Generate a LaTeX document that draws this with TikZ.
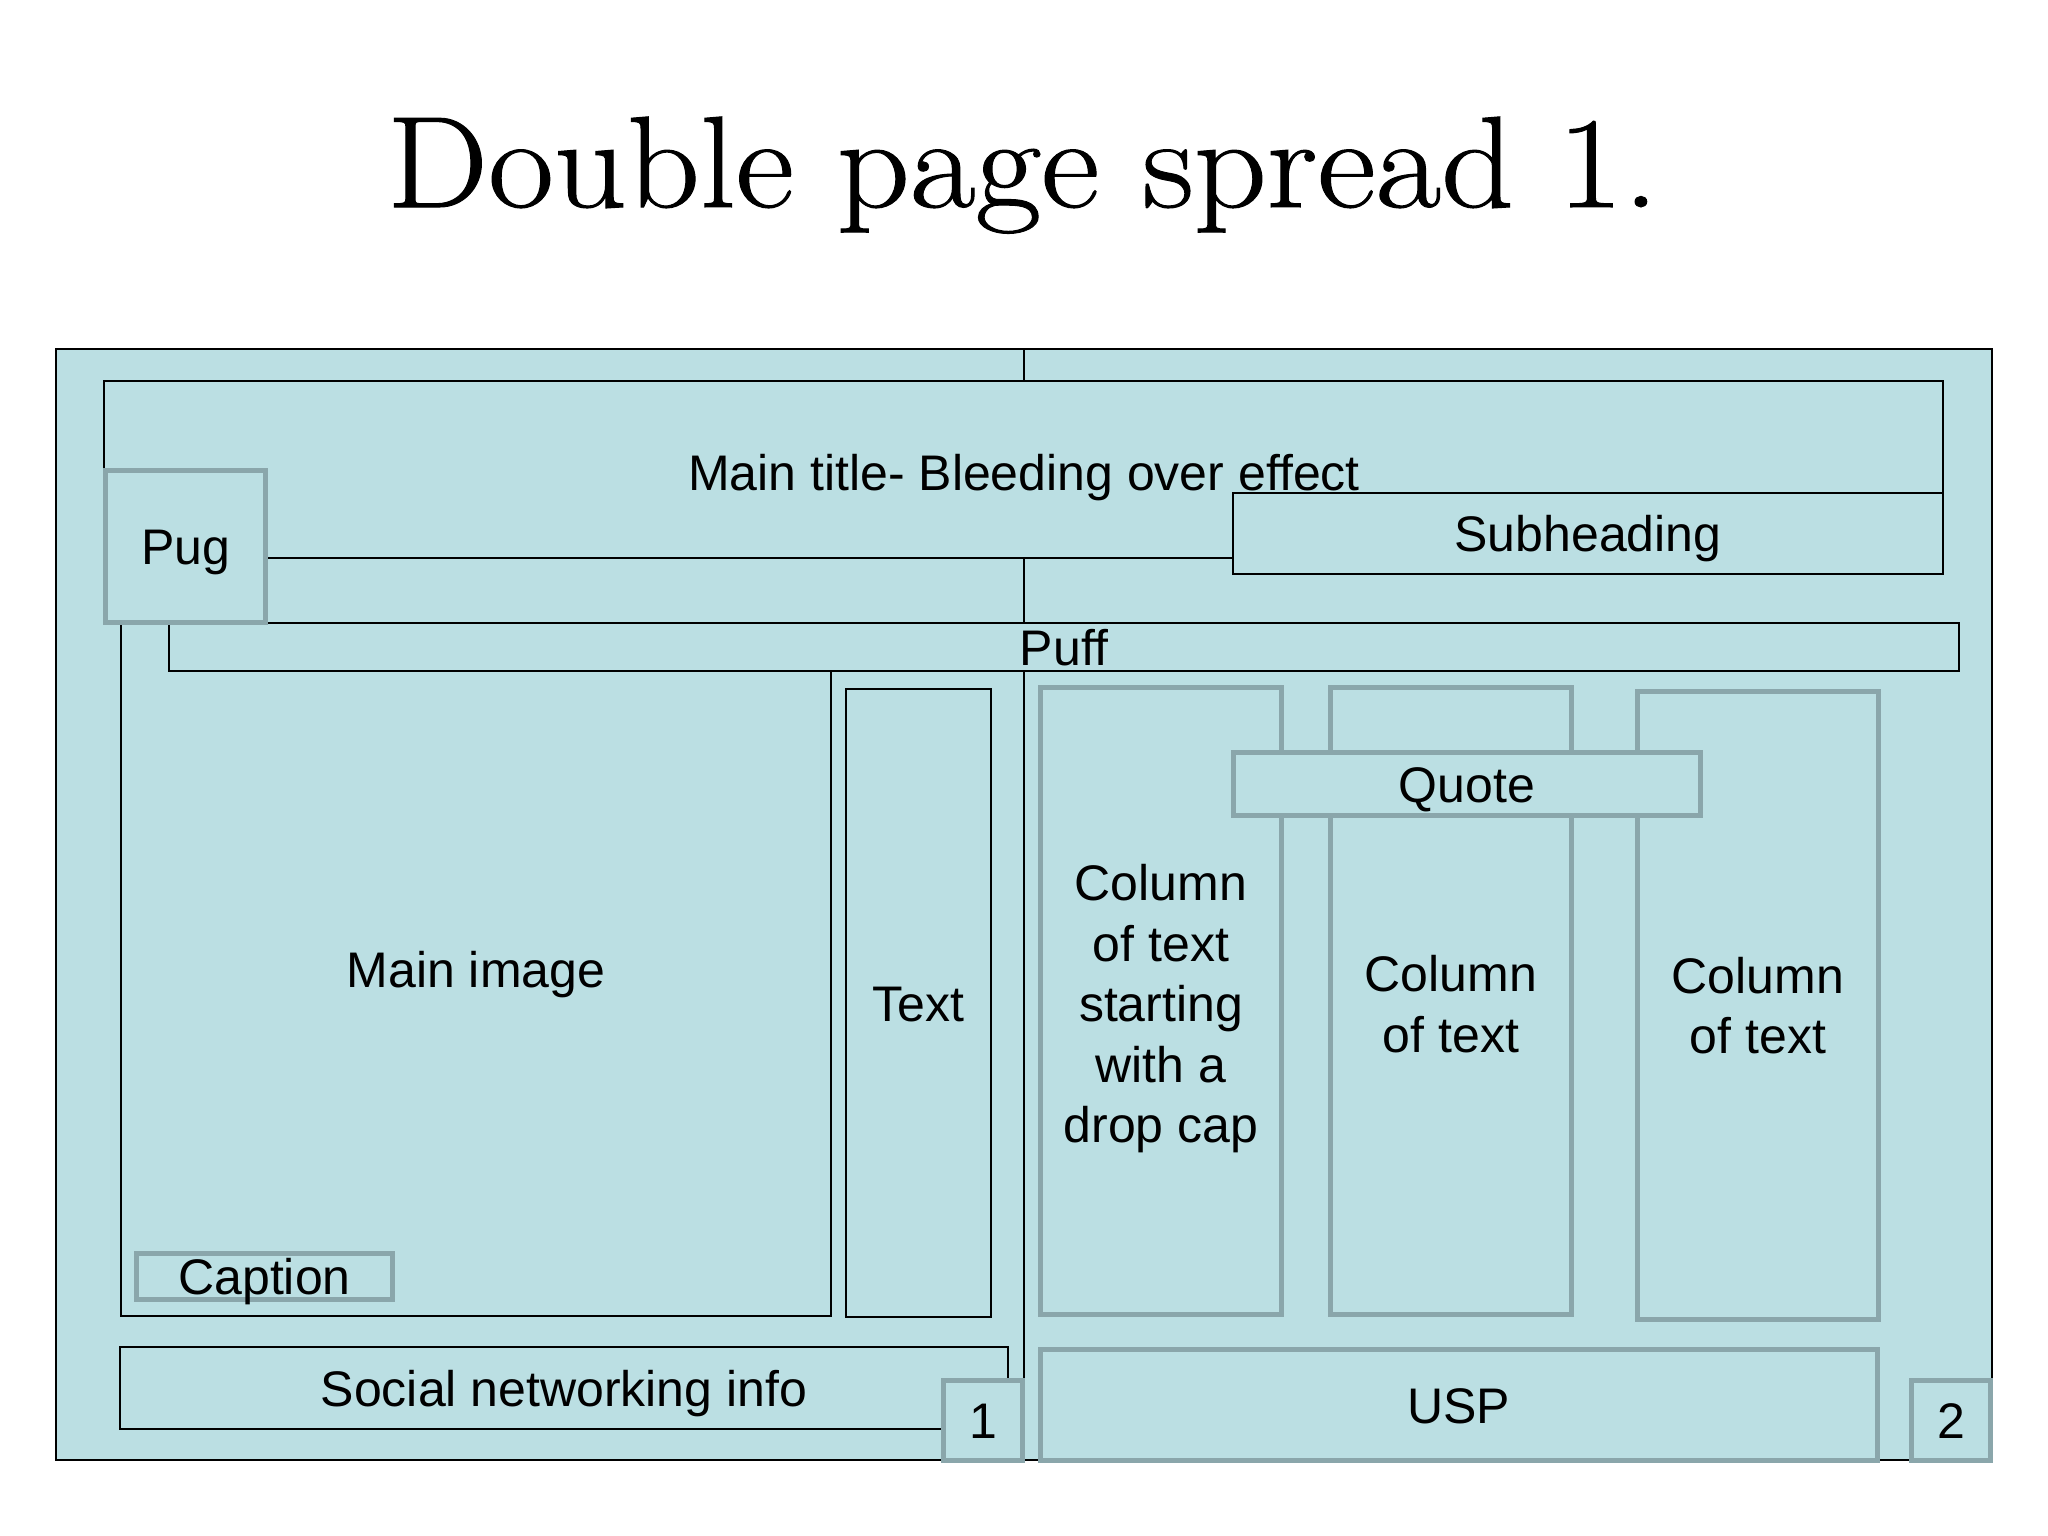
\documentclass[tikz,border=0pt]{standalone}
\usepackage{fontspec}
\newfontfamily\lbf{Liberation Sans}
\newfontfamily\titlef[FakeBold=0.8, FakeStretch=1.1]{Latin Modern Roman}
\definecolor{bg}{RGB}{187,223,227}
\definecolor{grayb}{RGB}{138,166,171}
\tikzset{
  lbl/.style={font=\lbf\fontsize{50}{60.5}\selectfont, text=black, align=center},
  capl/.style={text height=36pt, text depth=0pt},
  thinbox/.style={draw=black, fill=bg, line width=1.8pt, inner sep=0pt, lbl},
  graybox/.style={draw=grayb, fill=bg, line width=5pt, inner sep=0pt, lbl},
  dims/.style 2 args={minimum width=#1pt, minimum height=#2pt},
}
\begin{document}
\begin{tikzpicture}[x=1pt, y=-1pt]
\useasboundingbox (0,0) rectangle (2048,1536);
% page title
\node[anchor=base, font=\titlef\fontsize{130}{150}\selectfont] (title) at (1023,207) {Double page spread 1.};
% spread
\node[thinbox, dims={1936}{1111}] (outer) at (1024,904.5) {};
\coordinate (dtop) at (1024,349);
\coordinate (dbot) at (1024,1460);
\draw[line width=1.8pt] (dtop) -- (dbot);
% main title and subheading
\node[thinbox, dims={1839}{177}] (maintitle) at (1023.5,469.5) {};
\node[thinbox, capl, dims={710}{81}] (subheading) at (1588,533.5) {Subheading};
\node[lbl, capl] (maintitlelbl) at (1024,472) {Main title- Bleeding over effect};
% left page
\node[thinbox, capl, dims={710}{693}] (mainimage) at (476,969.5) {Main image};
\node[thinbox, capl, dims={145}{628}] (textbox) at (918.5,1003) {Text};
\node[thinbox, capl, dims={1790}{48}] (puff) at (1064,647) {Puff};
\node[graybox, capl, dims={160}{152}] (pug) at (185.5,546.5) {Pug};
\node[graybox, capl, dims={256}{46}] (caption) at (264.5,1276.5) {Caption};
\node[thinbox, capl, dims={888}{82}] (social) at (564,1388) {Social networking info};
\node[graybox, capl, dims={79}{80}] (pone) at (983,1420.5) {1};
% right page
\node[graybox, dims={241}{627}] (col1) at (1161,1001) {};
\node[lbl] (col1lbl) at (1161,1009) {Column\\of text\\starting\\with a\\drop cap};
\node[graybox, dims={241}{627}] (col2) at (1451,1001) {};
\node[lbl] (col2lbl) at (1451,1004) {Column\\of text};
\node[graybox, dims={241}{628}] (col3) at (1758,1005.5) {Column\\of text};
\node[graybox, capl, dims={467}{63}] (quote) at (1467,784) {Quote};
\node[graybox, capl, dims={837.5}{111}] (usp) at (1458.75,1405) {USP};
\node[graybox, capl, dims={79}{80}] (ptwo) at (1951,1420.5) {2};
\end{tikzpicture}
\end{document}
